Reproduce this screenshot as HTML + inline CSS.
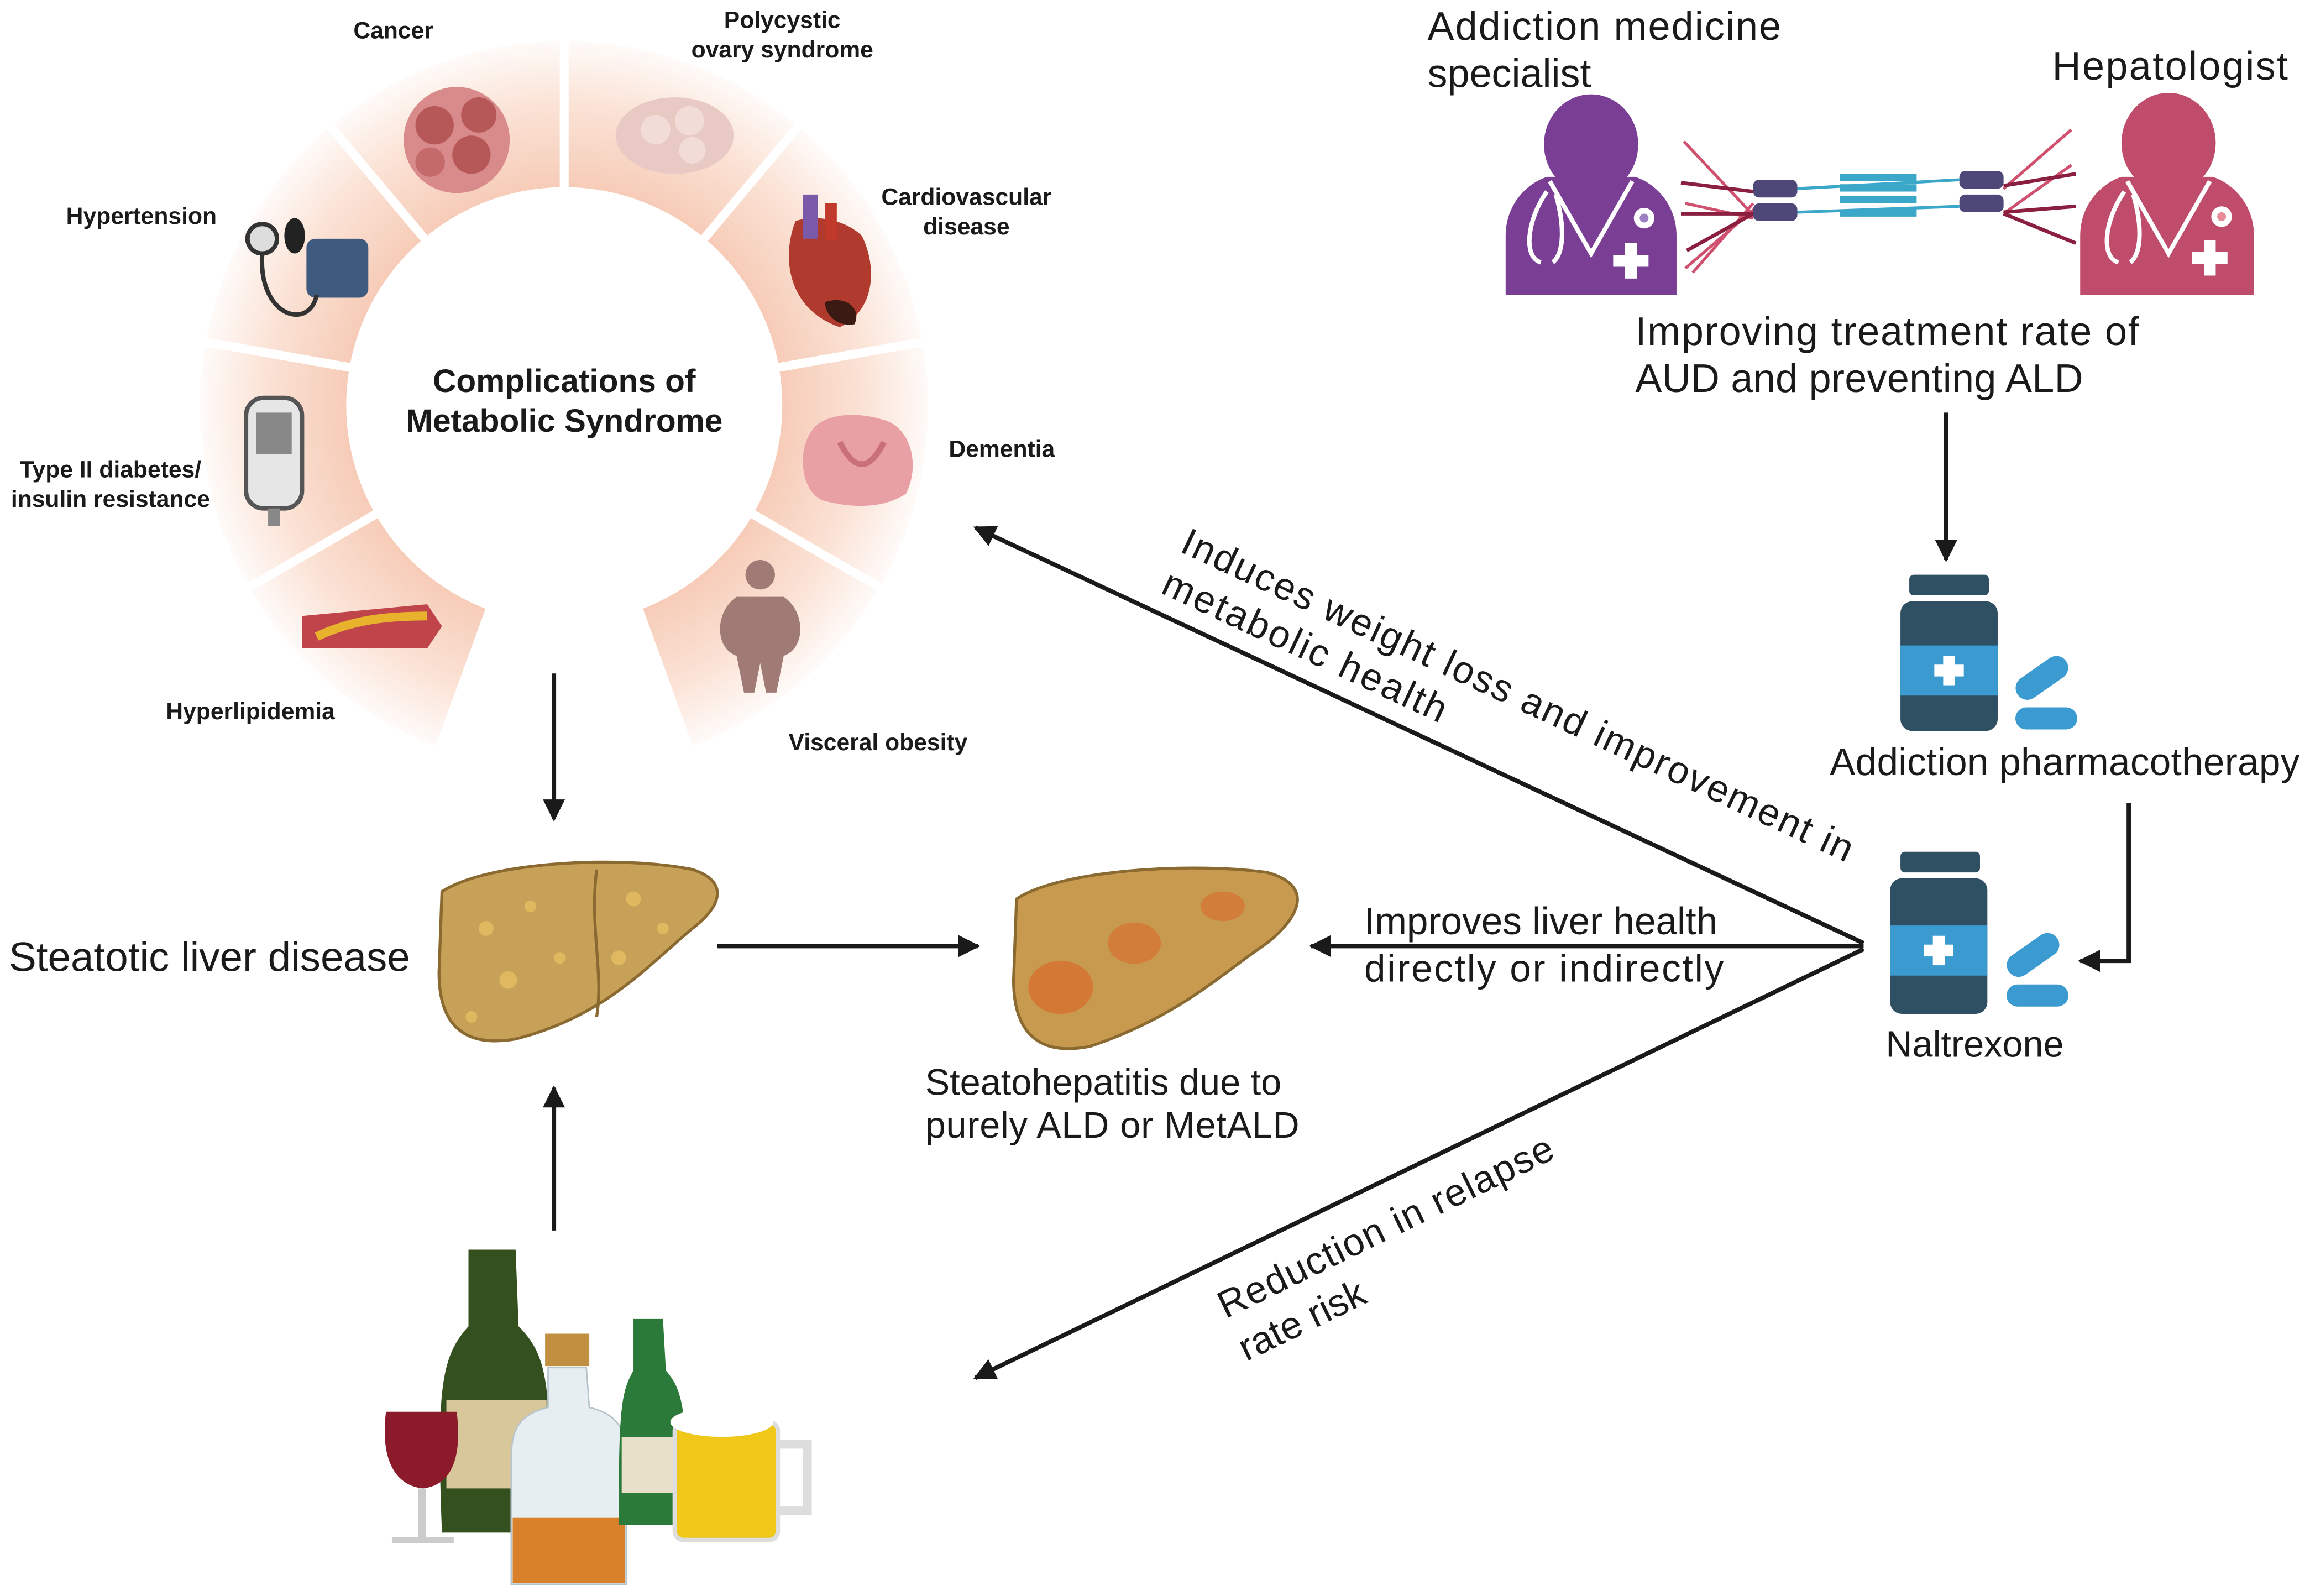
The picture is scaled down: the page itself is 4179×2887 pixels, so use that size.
<!DOCTYPE html>
<html><head><meta charset="utf-8"><style>html,body{margin:0;padding:0;background:#fff}svg{display:block}</style></head>
<body>
<svg width="4179" height="2887" viewBox="0 0 1568 1083" preserveAspectRatio="none" xmlns="http://www.w3.org/2000/svg" font-family="Liberation Sans, sans-serif">
<defs>
<radialGradient id="rg" gradientUnits="userSpaceOnUse" cx="383" cy="275" r="255">
<stop offset="0.55" stop-color="#f6c9b4"/><stop offset="0.8" stop-color="#fbe3d6"/><stop offset="1" stop-color="#ffffff"/></radialGradient>
<marker id="ah" viewBox="0 0 10 10" refX="9" refY="5" markerWidth="5" markerHeight="5" orient="auto"><path d="M0,0 L10,5 L0,10 z" fill="#1a1a1a"/></marker>
</defs>
<rect width="1568" height="1083" fill="#fff"/>
<g fill="url(#rg)" stroke="#fff" stroke-width="6">
<path d="M383,275 L222.3,83.5 A250,250 0 0 1 383,25 Z"/>
<path d="M383,275 L383,25 A250,250 0 0 1 543.7,83.5 Z"/>
<path d="M383,275 L543.7,83.5 A250,250 0 0 1 629.2,231.6 Z"/>
<path d="M383,275 L629.2,231.6 A250,250 0 0 1 599.5,400 Z"/>
<path d="M383,275 L599.5,400 A250,250 0 0 1 468.5,509.9 Z"/>
<path d="M383,275 L297.5,509.9 A250,250 0 0 1 166.5,400 Z"/>
<path d="M383,275 L166.5,400 A250,250 0 0 1 136.8,231.6 Z"/>
<path d="M383,275 L136.8,231.6 A250,250 0 0 1 222.3,83.5 Z"/>
</g>
<circle cx="383" cy="275" r="148" fill="#fff"/>
<g font-weight="bold" font-size="22" text-anchor="middle" fill="#1a1a1a">
<text x="383" y="266">Complications of</text><text x="383" y="293">Metabolic Syndrome</text></g>
<g font-weight="bold" font-size="16" text-anchor="middle" fill="#1a1a1a">
<text x="267" y="26">Cancer</text>
<text x="531" y="19">Polycystic</text><text x="531" y="39">ovary syndrome</text>
<text x="96" y="152">Hypertension</text>
<text x="656" y="139">Cardiovascular</text><text x="656" y="159">disease</text>
<text x="75" y="324">Type II diabetes/</text><text x="75" y="344">insulin resistance</text>
<text x="680" y="310">Dementia</text>
<text x="170" y="488">Hyperlipidemia</text>
<text x="596" y="509">Visceral obesity</text>
</g>
<g>
<circle cx="310" cy="95" r="36" fill="#d98a8a"/><circle cx="295" cy="85" r="13" fill="#b65858"/><circle cx="325" cy="78" r="12" fill="#b65858"/><circle cx="320" cy="105" r="13" fill="#b65858"/><circle cx="292" cy="110" r="10" fill="#c46a6a"/>
<ellipse cx="458" cy="92" rx="40" ry="26" fill="#e8c9c4"/><circle cx="445" cy="88" r="10" fill="#f2dcd8"/><circle cx="468" cy="82" r="10" fill="#f2dcd8"/><circle cx="470" cy="102" r="9" fill="#f2dcd8"/>
<path d="M540,150 C530,175 535,210 570,222 C595,210 595,180 585,160 C575,150 555,145 540,150Z" fill="#b03a2e"/><rect x="545" y="132" width="10" height="30" fill="#7a5aa8"/><rect x="560" y="138" width="8" height="25" fill="#c0392b"/><path d="M560,205 C575,200 585,210 580,220 C570,222 560,215 560,205Z" fill="#3b1a14"/>
<rect x="208" y="162" width="42" height="40" rx="6" fill="#3e5a7e"/><circle cx="178" cy="162" r="10" fill="#ddd" stroke="#333" stroke-width="3"/><ellipse cx="200" cy="160" rx="7" ry="12" fill="#222"/><path d="M178,172 C175,215 210,225 215,200" stroke="#333" stroke-width="3" fill="none"/>
<rect x="167" y="270" width="38" height="75" rx="12" fill="#e6e6e6" stroke="#555" stroke-width="3"/><rect x="174" y="280" width="24" height="28" fill="#888"/><rect x="182" y="345" width="8" height="12" fill="#888"/>
<path d="M205,418 L290,410 L300,425 L290,440 L205,440Z" fill="#c0454a"/><path d="M215,432 C240,420 265,418 290,418" stroke="#e8b22c" stroke-width="6" fill="none"/>
<path d="M555,288 C540,300 542,335 560,340 C580,345 600,345 615,335 C625,315 618,290 600,285 C585,280 565,280 555,288Z" fill="#e9a0a5"/><path d="M570,300 C580,320 590,320 600,300" stroke="#c9707a" stroke-width="4" fill="none"/>
<circle cx="516" cy="390" r="10" fill="#a07a74"/><path d="M500,405 C485,415 485,440 500,445 L505,470 L512,470 L516,450 L520,470 L527,470 L532,445 C547,440 547,415 532,405 Z" fill="#a07a74"/>
</g>
<g>
<ellipse cx="1080" cy="98" rx="32" ry="34" fill="#7a3f95"/>
<path d="M1022,160 C1022,140 1035,125 1050,120 L1110,120 C1125,125 1138,140 1138,160 L1138,200 L1022,200 Z" fill="#7a3f95"/>
<path d="M1052,123 L1080,172 L1108,123" fill="none" stroke="#fff" stroke-width="3"/>
<path d="M1050,130 C1036,150 1034,175 1046,178 M1056,132 C1062,152 1062,172 1054,178" stroke="#fff" stroke-width="3" fill="none"/>
<circle cx="1116" cy="148" r="7" fill="#fff"/><circle cx="1116" cy="148" r="3" fill="#9b7fc0"/><rect x="1103" y="165" width="8" height="24" fill="#fff"/><rect x="1095" y="173" width="24" height="8" fill="#fff"/>
<ellipse cx="1472" cy="97" rx="32" ry="34" fill="#c04c6c"/>
<path d="M1412,160 C1412,140 1425,125 1440,120 L1502,120 C1517,125 1530,140 1530,160 L1530,200 L1412,200 Z" fill="#c04c6c"/>
<path d="M1444,123 L1472,172 L1500,123" fill="none" stroke="#fff" stroke-width="3"/>
<path d="M1442,130 C1428,150 1426,175 1438,178 M1448,132 C1454,152 1454,172 1446,178" stroke="#fff" stroke-width="3" fill="none"/>
<circle cx="1508" cy="147" r="7" fill="#fff"/><circle cx="1508" cy="147" r="3" fill="#e88a98"/><rect x="1496" y="163" width="8" height="24" fill="#fff"/><rect x="1488" y="171" width="24" height="8" fill="#fff"/>
<g stroke="#d05070" stroke-width="2"><line x1="1143" y1="96" x2="1192" y2="148"/><line x1="1144" y1="138" x2="1190" y2="148"/><line x1="1144" y1="182" x2="1193" y2="140"/><line x1="1149" y1="185" x2="1190" y2="138"/><line x1="1406" y1="88" x2="1360" y2="128"/><line x1="1406" y1="112" x2="1360" y2="145"/></g>
<g stroke="#8a1f40" stroke-width="2.5"><line x1="1141" y1="124" x2="1190" y2="130"/><line x1="1141" y1="145" x2="1190" y2="145"/><line x1="1145" y1="170" x2="1190" y2="145"/><line x1="1409" y1="118" x2="1360" y2="126"/><line x1="1409" y1="140" x2="1360" y2="144"/><line x1="1409" y1="165" x2="1360" y2="145"/></g>
<rect x="1190" y="122" width="30" height="12" rx="4" fill="#4e4878"/><rect x="1190" y="138" width="30" height="12" rx="4" fill="#4e4878"/>
<rect x="1330" y="116" width="30" height="12" rx="4" fill="#4e4878"/><rect x="1330" y="132" width="30" height="12" rx="4" fill="#4e4878"/>
<g stroke="#3ba7c9" stroke-width="2"><line x1="1220" y1="128" x2="1330" y2="122"/><line x1="1220" y1="144" x2="1330" y2="140"/></g>
<g fill="#3ba7c9"><rect x="1249" y="118" width="52" height="5"/><rect x="1249" y="125" width="52" height="5"/><rect x="1249" y="133" width="52" height="5"/><rect x="1249" y="142" width="52" height="5"/></g>
</g>
<g font-size="27" fill="#1a1a1a">
<text x="969" y="27" textLength="240">Addiction medicine</text><text x="969" y="59">specialist</text>
<text x="1393" y="54" textLength="160">Hepatologist</text>
<text x="1110" y="234" textLength="342">Improving treatment rate of</text><text x="1110" y="266" textLength="304">AUD and preventing ALD</text>
<text x="1242" y="526" font-size="26" textLength="319">Addiction pharmacotherapy</text>
<text x="1280" y="717" font-size="25">Naltrexone</text>
<text x="6" y="659" font-size="28">Steatotic liver disease</text>
<text x="628" y="743" font-size="25">Steatohepatitis due to</text><text x="628" y="772" font-size="25" textLength="254">purely ALD or MetALD</text>
<text x="926" y="634" font-size="26">Improves liver health</text><text x="926" y="666" font-size="26" textLength="244">directly or indirectly</text>
<text transform="translate(800,374) rotate(25)" font-size="26" textLength="500">Induces weight loss and improvement in</text>
<text transform="translate(787,402) rotate(25)" font-size="26" textLength="210">metabolic health</text>
<text transform="translate(832,895) rotate(-26)" font-size="26" textLength="250">Reduction in relapse</text>
<text transform="translate(846,924) rotate(-26)" font-size="26">rate risk</text>
</g>
<g>
<rect x="1296" y="390" width="54" height="14" rx="3" fill="#2f4f63"/><rect x="1290" y="408" width="66" height="88" rx="8" fill="#2f4f63"/><rect x="1290" y="438" width="66" height="34" fill="#3b9bd0"/><rect x="1319" y="445" width="8" height="20" fill="#fff"/><rect x="1313" y="451" width="20" height="8" fill="#fff"/>
<rect x="1366" y="452" width="40" height="16" rx="8" fill="#3b9bd0" transform="rotate(-35 1386 460)"/><rect x="1368" y="480" width="42" height="15" rx="7.5" fill="#3b9bd0"/>
<rect x="1290" y="578" width="54" height="14" rx="3" fill="#2f4f63"/><rect x="1283" y="596" width="66" height="92" rx="8" fill="#2f4f63"/><rect x="1283" y="628" width="66" height="34" fill="#3b9bd0"/><rect x="1312" y="635" width="8" height="20" fill="#fff"/><rect x="1306" y="641" width="20" height="8" fill="#fff"/>
<rect x="1360" y="640" width="40" height="16" rx="8" fill="#3b9bd0" transform="rotate(-35 1380 648)"/><rect x="1362" y="668" width="42" height="15" rx="7.5" fill="#3b9bd0"/>
</g>
<path d="M300,605 C330,585 420,580 470,590 C495,598 490,615 470,630 C440,655 410,690 350,705 C310,712 298,690 298,660 Z" fill="#c7a158" stroke="#8a6a30" stroke-width="2"/>
<path d="M405,590 C400,630 410,660 405,690" stroke="#8a6a30" stroke-width="2" fill="none"/>
<g fill="#e0b860"><circle cx="330" cy="630" r="5"/><circle cx="360" cy="615" r="4"/><circle cx="345" cy="665" r="6"/><circle cx="380" cy="650" r="4"/><circle cx="430" cy="610" r="5"/><circle cx="450" cy="630" r="4"/><circle cx="420" cy="650" r="5"/><circle cx="320" cy="690" r="4"/></g>
<path d="M690,610 C720,590 810,585 860,592 C890,600 885,620 860,640 C830,660 800,690 740,710 C700,718 688,695 688,665 Z" fill="#c89a50" stroke="#8a6a30" stroke-width="2"/>
<ellipse cx="720" cy="670" rx="22" ry="18" fill="#d86a2a" opacity="0.7"/><ellipse cx="770" cy="640" rx="18" ry="14" fill="#d86a2a" opacity="0.6"/><ellipse cx="830" cy="615" rx="15" ry="10" fill="#d86a2a" opacity="0.6"/>
<g>
<path d="M318,848 L350,848 L352,900 C372,920 375,940 372,1040 L300,1040 C296,940 300,920 318,900Z" fill="#33501e"/>
<rect x="303" y="950" width="68" height="60" fill="#d8c79a"/>
<path d="M262,958 C258,990 268,1008 287,1010 C306,1008 314,990 310,958Z" fill="#8b1a2a"/><rect x="284" y="1010" width="5" height="35" fill="#ccc"/><rect x="266" y="1043" width="42" height="4" fill="#ccc"/>
<rect x="370" y="905" width="30" height="22" fill="#c09040"/><path d="M372,928 L398,928 L400,955 C420,960 425,970 425,990 L425,1075 L347,1075 L347,990 C347,970 352,960 372,955Z" fill="#e6eef2" stroke="#b8c4cc"/><rect x="348" y="1030" width="76" height="44" fill="#d8812a"/>
<path d="M430,895 L450,895 L452,930 C465,945 466,960 466,1035 L420,1035 C420,960 421,945 430,930Z" fill="#2c7a3a"/><rect x="422" y="975" width="42" height="38" fill="#e8e0c8"/>
<rect x="458" y="965" width="70" height="80" rx="6" fill="#f0c81a" stroke="#ddd" stroke-width="3"/><ellipse cx="490" cy="965" rx="35" ry="10" fill="#fff"/><path d="M528,980 L548,980 L548,1025 L528,1025" stroke="#ddd" stroke-width="6" fill="none"/>
</g>
<g stroke="#1a1a1a" stroke-width="3" fill="none" marker-end="url(#ah)">
<line x1="376" y1="457" x2="376" y2="556"/>
<line x1="376" y1="835" x2="376" y2="738"/>
<line x1="487" y1="642" x2="664" y2="642"/>
<line x1="1321" y1="280" x2="1321" y2="380"/>
<polyline points="1445,545 1445,652 1412,652"/>
<line x1="1265" y1="640" x2="662" y2="358"/>
<line x1="1265" y1="642" x2="890" y2="642"/>
<line x1="1265" y1="644" x2="662" y2="935"/>
</g>
</svg>
</body></html>
